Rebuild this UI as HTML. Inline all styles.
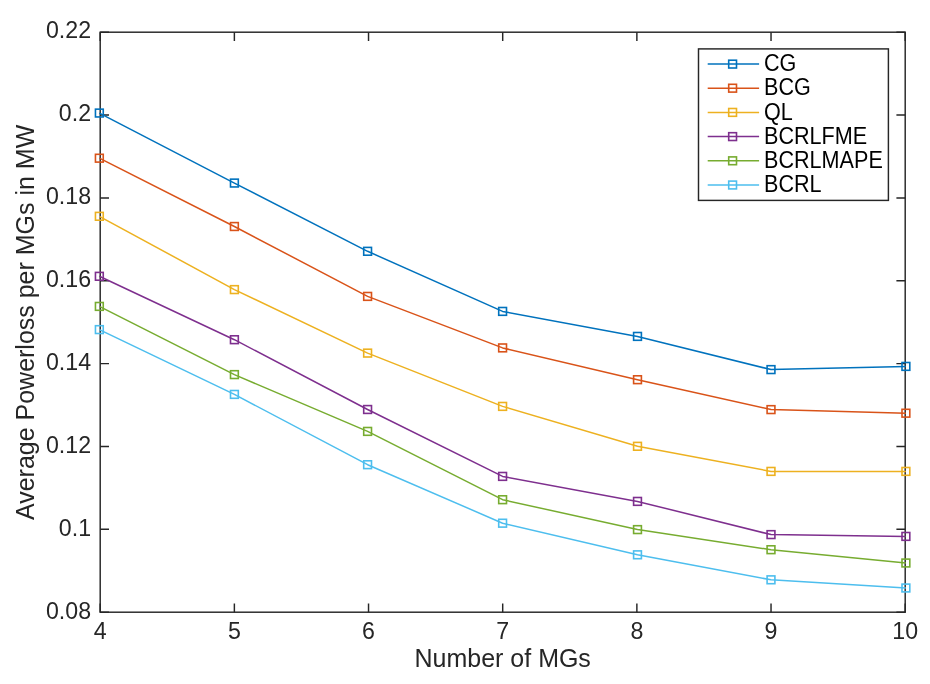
<!DOCTYPE html><html><head><meta charset="utf-8"><style>html,body{margin:0;padding:0;background:#fff;}svg{display:block;}text{font-family:"Liberation Sans",Arial,sans-serif;}</style></head><body>
<svg width="930" height="684" viewBox="0 0 930 684">
<rect x="0" y="0" width="930" height="684" fill="#fff"/>
<rect x="100.20" y="32.20" width="805.00" height="580.00" fill="none" stroke="#262626" stroke-width="1.45"/>
<path d="M100.20,612.20V603.40M100.20,32.20V41.00M234.37,612.20V603.40M234.37,32.20V41.00M368.53,612.20V603.40M368.53,32.20V41.00M502.70,612.20V603.40M502.70,32.20V41.00M636.87,612.20V603.40M636.87,32.20V41.00M771.03,612.20V603.40M771.03,32.20V41.00M905.20,612.20V603.40M905.20,32.20V41.00M100.20,612.20H109.00M905.20,612.20H896.40M100.20,529.34H109.00M905.20,529.34H896.40M100.20,446.49H109.00M905.20,446.49H896.40M100.20,363.63H109.00M905.20,363.63H896.40M100.20,280.77H109.00M905.20,280.77H896.40M100.20,197.91H109.00M905.20,197.91H896.40M100.20,115.06H109.00M905.20,115.06H896.40M100.20,32.20H109.00M905.20,32.20H896.40" stroke="#262626" stroke-width="1.45" fill="none"/>
<polyline points="99.35,113.05 234.40,183.05 367.60,251.30 502.60,311.40 637.50,336.40 771.00,369.60 905.90,366.40" fill="none" stroke="#0072BD" stroke-width="1.5" stroke-linejoin="round"/>
<rect x="95.45" y="109.15" width="7.8" height="7.8" fill="none" stroke="#0072BD" stroke-width="1.6"/>
<rect x="230.50" y="179.15" width="7.8" height="7.8" fill="none" stroke="#0072BD" stroke-width="1.6"/>
<rect x="363.70" y="247.40" width="7.8" height="7.8" fill="none" stroke="#0072BD" stroke-width="1.6"/>
<rect x="498.70" y="307.50" width="7.8" height="7.8" fill="none" stroke="#0072BD" stroke-width="1.6"/>
<rect x="633.60" y="332.50" width="7.8" height="7.8" fill="none" stroke="#0072BD" stroke-width="1.6"/>
<rect x="767.10" y="365.70" width="7.8" height="7.8" fill="none" stroke="#0072BD" stroke-width="1.6"/>
<rect x="902.00" y="362.50" width="7.8" height="7.8" fill="none" stroke="#0072BD" stroke-width="1.6"/>
<polyline points="99.35,158.20 234.40,226.50 367.60,296.40 502.60,347.90 637.50,379.70 771.00,409.60 905.90,413.20" fill="none" stroke="#D95319" stroke-width="1.5" stroke-linejoin="round"/>
<rect x="95.45" y="154.30" width="7.8" height="7.8" fill="none" stroke="#D95319" stroke-width="1.6"/>
<rect x="230.50" y="222.60" width="7.8" height="7.8" fill="none" stroke="#D95319" stroke-width="1.6"/>
<rect x="363.70" y="292.50" width="7.8" height="7.8" fill="none" stroke="#D95319" stroke-width="1.6"/>
<rect x="498.70" y="344.00" width="7.8" height="7.8" fill="none" stroke="#D95319" stroke-width="1.6"/>
<rect x="633.60" y="375.80" width="7.8" height="7.8" fill="none" stroke="#D95319" stroke-width="1.6"/>
<rect x="767.10" y="405.70" width="7.8" height="7.8" fill="none" stroke="#D95319" stroke-width="1.6"/>
<rect x="902.00" y="409.30" width="7.8" height="7.8" fill="none" stroke="#D95319" stroke-width="1.6"/>
<polyline points="99.35,216.30 234.40,289.60 367.60,353.10 502.60,406.40 637.50,446.30 771.00,471.40 905.90,471.40" fill="none" stroke="#EDB120" stroke-width="1.5" stroke-linejoin="round"/>
<rect x="95.45" y="212.40" width="7.8" height="7.8" fill="none" stroke="#EDB120" stroke-width="1.6"/>
<rect x="230.50" y="285.70" width="7.8" height="7.8" fill="none" stroke="#EDB120" stroke-width="1.6"/>
<rect x="363.70" y="349.20" width="7.8" height="7.8" fill="none" stroke="#EDB120" stroke-width="1.6"/>
<rect x="498.70" y="402.50" width="7.8" height="7.8" fill="none" stroke="#EDB120" stroke-width="1.6"/>
<rect x="633.60" y="442.40" width="7.8" height="7.8" fill="none" stroke="#EDB120" stroke-width="1.6"/>
<rect x="767.10" y="467.50" width="7.8" height="7.8" fill="none" stroke="#EDB120" stroke-width="1.6"/>
<rect x="902.00" y="467.50" width="7.8" height="7.8" fill="none" stroke="#EDB120" stroke-width="1.6"/>
<polyline points="99.35,276.30 234.40,339.70 367.60,409.50 502.60,476.40 637.50,501.40 771.00,534.60 905.90,536.40" fill="none" stroke="#7E2F8E" stroke-width="1.5" stroke-linejoin="round"/>
<rect x="95.45" y="272.40" width="7.8" height="7.8" fill="none" stroke="#7E2F8E" stroke-width="1.6"/>
<rect x="230.50" y="335.80" width="7.8" height="7.8" fill="none" stroke="#7E2F8E" stroke-width="1.6"/>
<rect x="363.70" y="405.60" width="7.8" height="7.8" fill="none" stroke="#7E2F8E" stroke-width="1.6"/>
<rect x="498.70" y="472.50" width="7.8" height="7.8" fill="none" stroke="#7E2F8E" stroke-width="1.6"/>
<rect x="633.60" y="497.50" width="7.8" height="7.8" fill="none" stroke="#7E2F8E" stroke-width="1.6"/>
<rect x="767.10" y="530.70" width="7.8" height="7.8" fill="none" stroke="#7E2F8E" stroke-width="1.6"/>
<rect x="902.00" y="532.50" width="7.8" height="7.8" fill="none" stroke="#7E2F8E" stroke-width="1.6"/>
<polyline points="99.35,306.40 234.40,374.60 367.60,431.40 502.60,499.70 637.50,529.60 771.00,549.70 905.90,563.00" fill="none" stroke="#77AC30" stroke-width="1.5" stroke-linejoin="round"/>
<rect x="95.45" y="302.50" width="7.8" height="7.8" fill="none" stroke="#77AC30" stroke-width="1.6"/>
<rect x="230.50" y="370.70" width="7.8" height="7.8" fill="none" stroke="#77AC30" stroke-width="1.6"/>
<rect x="363.70" y="427.50" width="7.8" height="7.8" fill="none" stroke="#77AC30" stroke-width="1.6"/>
<rect x="498.70" y="495.80" width="7.8" height="7.8" fill="none" stroke="#77AC30" stroke-width="1.6"/>
<rect x="633.60" y="525.70" width="7.8" height="7.8" fill="none" stroke="#77AC30" stroke-width="1.6"/>
<rect x="767.10" y="545.80" width="7.8" height="7.8" fill="none" stroke="#77AC30" stroke-width="1.6"/>
<rect x="902.00" y="559.10" width="7.8" height="7.8" fill="none" stroke="#77AC30" stroke-width="1.6"/>
<polyline points="99.35,329.60 234.40,394.40 367.60,464.70 502.60,523.20 637.50,554.80 771.00,579.80 905.90,588.00" fill="none" stroke="#4DBEEE" stroke-width="1.5" stroke-linejoin="round"/>
<rect x="95.45" y="325.70" width="7.8" height="7.8" fill="none" stroke="#4DBEEE" stroke-width="1.6"/>
<rect x="230.50" y="390.50" width="7.8" height="7.8" fill="none" stroke="#4DBEEE" stroke-width="1.6"/>
<rect x="363.70" y="460.80" width="7.8" height="7.8" fill="none" stroke="#4DBEEE" stroke-width="1.6"/>
<rect x="498.70" y="519.30" width="7.8" height="7.8" fill="none" stroke="#4DBEEE" stroke-width="1.6"/>
<rect x="633.60" y="550.90" width="7.8" height="7.8" fill="none" stroke="#4DBEEE" stroke-width="1.6"/>
<rect x="767.10" y="575.90" width="7.8" height="7.8" fill="none" stroke="#4DBEEE" stroke-width="1.6"/>
<rect x="902.00" y="584.10" width="7.8" height="7.8" fill="none" stroke="#4DBEEE" stroke-width="1.6"/>
<text transform="translate(100.20,638.6) scale(1,1.001)" font-size="23.2" fill="#262626" text-anchor="middle">4</text>
<text transform="translate(234.37,638.6) scale(1,1.001)" font-size="23.2" fill="#262626" text-anchor="middle">5</text>
<text transform="translate(368.53,638.6) scale(1,1.001)" font-size="23.2" fill="#262626" text-anchor="middle">6</text>
<text transform="translate(502.70,638.6) scale(1,1.001)" font-size="23.2" fill="#262626" text-anchor="middle">7</text>
<text transform="translate(636.87,638.6) scale(1,1.001)" font-size="23.2" fill="#262626" text-anchor="middle">8</text>
<text transform="translate(771.03,638.6) scale(1,1.001)" font-size="23.2" fill="#262626" text-anchor="middle">9</text>
<text transform="translate(905.20,638.6) scale(1,1.001)" font-size="23.2" fill="#262626" text-anchor="middle">10</text>
<text transform="translate(91.1,619.00) scale(1,1.001)" font-size="23.2" fill="#262626" text-anchor="end">0.08</text>
<text transform="translate(91.1,536.04) scale(1,1.001)" font-size="23.2" fill="#262626" text-anchor="end">0.1</text>
<text transform="translate(91.1,452.99) scale(1,1.001)" font-size="23.2" fill="#262626" text-anchor="end">0.12</text>
<text transform="translate(91.1,369.53) scale(1,1.001)" font-size="23.2" fill="#262626" text-anchor="end">0.14</text>
<text transform="translate(91.1,286.87) scale(1,1.001)" font-size="23.2" fill="#262626" text-anchor="end">0.16</text>
<text transform="translate(91.1,204.11) scale(1,1.001)" font-size="23.2" fill="#262626" text-anchor="end">0.18</text>
<text transform="translate(91.1,121.26) scale(1,1.001)" font-size="23.2" fill="#262626" text-anchor="end">0.2</text>
<text transform="translate(91.1,38.20) scale(1,1.001)" font-size="23.2" fill="#262626" text-anchor="end">0.22</text>
<text transform="translate(502.7,666.7) scale(1,1.01)" font-size="25" fill="#262626" text-anchor="middle">Number of MGs</text>
<text transform="translate(33.9,322.4) rotate(-90) scale(1,1.01)" font-size="25" fill="#262626" text-anchor="middle">Average Powerloss per MGs in MW</text>
<rect x="698.5" y="48.9" width="189.90" height="151.50" fill="#fff" stroke="#262626" stroke-width="1.45"/>
<line x1="707.7" y1="64.1" x2="759.1" y2="64.1" stroke="#0072BD" stroke-width="1.5"/>
<rect x="728.70" y="60.20" width="7.8" height="7.8" fill="none" stroke="#0072BD" stroke-width="1.6"/>
<text transform="translate(764.0,71.20) scale(1,1.07)" font-size="21.6" fill="#000">CG</text>
<line x1="707.7" y1="88.2" x2="759.1" y2="88.2" stroke="#D95319" stroke-width="1.5"/>
<rect x="728.70" y="84.30" width="7.8" height="7.8" fill="none" stroke="#D95319" stroke-width="1.6"/>
<text transform="translate(764.0,95.30) scale(1,1.07)" font-size="21.6" fill="#000">BCG</text>
<line x1="707.7" y1="112.4" x2="759.1" y2="112.4" stroke="#EDB120" stroke-width="1.5"/>
<rect x="728.70" y="108.50" width="7.8" height="7.8" fill="none" stroke="#EDB120" stroke-width="1.6"/>
<text transform="translate(764.0,119.50) scale(1,1.07)" font-size="21.6" fill="#000">QL</text>
<line x1="707.7" y1="136.6" x2="759.1" y2="136.6" stroke="#7E2F8E" stroke-width="1.5"/>
<rect x="728.70" y="132.70" width="7.8" height="7.8" fill="none" stroke="#7E2F8E" stroke-width="1.6"/>
<text transform="translate(764.0,143.70) scale(1,1.07)" font-size="21.6" fill="#000">BCRLFME</text>
<line x1="707.7" y1="160.8" x2="759.1" y2="160.8" stroke="#77AC30" stroke-width="1.5"/>
<rect x="728.70" y="156.90" width="7.8" height="7.8" fill="none" stroke="#77AC30" stroke-width="1.6"/>
<text transform="translate(764.0,167.90) scale(1,1.07)" font-size="21.6" fill="#000">BCRLMAPE</text>
<line x1="707.7" y1="185.0" x2="759.1" y2="185.0" stroke="#4DBEEE" stroke-width="1.5"/>
<rect x="728.70" y="181.10" width="7.8" height="7.8" fill="none" stroke="#4DBEEE" stroke-width="1.6"/>
<text transform="translate(764.0,192.10) scale(1,1.07)" font-size="21.6" fill="#000">BCRL</text>
</svg></body></html>
